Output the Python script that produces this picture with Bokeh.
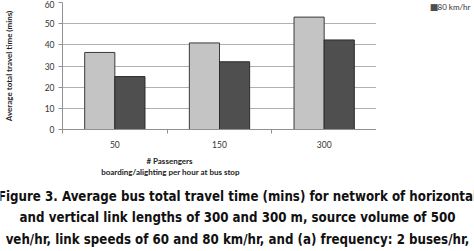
from bokeh.plotting import figure
from bokeh.layouts import column, row
from bokeh.models import (ColumnDataSource, FixedTicker, Range1d, Label)
from bokeh.embed import file_html
from bokeh.resources import INLINE

categories = ["50", "150", "300"]
speed_60 = [36.4, 40.9, 53.1]
speed_80 = [25.0, 32.0, 42.3]
y_ticks = [0, 10, 20, 30, 40, 50, 60]
legend_label = "80 km/hr"
x_title_1 = "# Passengers"
x_title_2 = "boarding/alighting per hour at bus stop"
y_title = "Average total travel time (mins)"
caption = [
    "Figure 3. Average bus total travel time (mins) for network of horizontal",
    "and vertical link lengths of 300 and 300 m, source volume of 500",
    "veh/hr, link speeds of 60 and 80 km/hr, and (a) frequency: 2 buses/hr,",
]

W, H = 474, 251
FL, FR, FT, FB = 62, 376, 2, 130
HP = 150          # height of the chart figure
HC = H - HP       # height of the text figure below

DARK = "#4f4f4f"
LIGHT = "#c4c4c4"

xs = [i + 0.5 for i in range(len(categories))]
src = ColumnDataSource(dict(
    x60=[x - 0.144 for x in xs], x80=[x + 0.144 for x in xs],
    s60=speed_60, s80=speed_80))

p = figure(width=FR, height=HP, output_backend="svg", toolbar_location=None,
           x_range=Range1d(0, len(categories)), y_range=Range1d(0, 60),
           min_border_left=FL, min_border_right=0, min_border_top=FT,
           min_border_bottom=HP - FB)
p.outline_line_color = None
p.background_fill_color = "white"
p.border_fill_color = "white"
p.xgrid.visible = False
p.ygrid.grid_line_color = "#b0b0b0"
p.ygrid.grid_line_width = 1

p.vbar(x="x60", top="s60", width=0.288, source=src, fill_color=LIGHT,
       line_color="#3a3a3a", line_width=1)
p.vbar(x="x80", top="s80", width=0.288, source=src, fill_color=DARK,
       line_color="#2a2a2a", line_width=1)

p.xaxis.ticker = FixedTicker(ticks=xs, minor_ticks=list(range(len(categories) + 1)))
p.xaxis.major_label_overrides = {x: c for x, c in zip(xs, categories)}
p.xaxis.major_tick_out = 0
p.xaxis.major_tick_in = 0
p.xaxis.minor_tick_out = 4
p.xaxis.minor_tick_in = 0
p.xaxis.axis_line_color = "#909090"
p.xaxis.minor_tick_line_color = "#909090"
p.xaxis.major_label_text_font = "Lato"
p.xaxis.major_label_text_font_size = "8.5px"
p.xaxis.major_label_text_color = "#333333"
p.xaxis.major_label_standoff = 7

p.yaxis.ticker = FixedTicker(ticks=y_ticks, minor_ticks=[])
p.yaxis.axis_line_color = "#909090"
p.yaxis.major_tick_line_color = "#909090"
p.yaxis.major_tick_out = 4
p.yaxis.major_tick_in = 0
p.yaxis.major_label_text_font = "Lato"
p.yaxis.major_label_text_font_size = "8.5px"
p.yaxis.major_label_text_color = "#333333"
p.yaxis.major_label_standoff = 4
p.yaxis.axis_label = y_title
p.yaxis.axis_label_text_font = "Lato"
p.yaxis.axis_label_text_font_size = "8px"
p.yaxis.axis_label_text_font_style = "bold"
p.yaxis.axis_label_text_color = "#222222"
p.yaxis.axis_label_standoff = 28


def blank(width, height):
    f = figure(width=width, height=height, output_backend="svg", toolbar_location=None,
               x_range=Range1d(0, width), y_range=Range1d(0, height), min_border=0)
    f.axis.visible = False
    f.grid.visible = False
    f.outline_line_color = None
    f.background_fill_color = "white"
    f.border_fill_color = "white"
    return f


def text(fig, ox, oy, s, X, Y, size, font, color, bold=True, align="center"):
    fig.add_layout(Label(x=X - ox, y=oy - Y, text=s, text_font=font, text_font_size=size,
                         text_font_style="bold" if bold else "normal", text_color=color,
                         text_align=align, text_baseline="middle"))


# legend panel to the right of the chart (key square + label)
lf = blank(W - FR, HP)
text(lf, FR, HP, "\u25A0", 433.5, 5.5, "9px", "DejaVu Sans", DARK, bold=False)
text(lf, FR, HP, legend_label, 437, 5.5, "8px", "Lato", "#333333", bold=False, align="left")

# text panel below: x-axis title and caption
c = blank(W, HC)
text(c, 0, H, x_title_1, 169, 160.5, "8px", "Lato", "#222222")
text(c, 0, H, x_title_2, 170, 171, "8px", "Lato", "#222222")
for i, line in enumerate(caption):
    text(c, 0, H, line, W / 2, 195.5 + i * 21.5, "13.2px", "DejaVu Sans Condensed", "#111111")

open("out.html", "w").write(file_html(column(row(p, lf, spacing=0), c, spacing=0), INLINE))
